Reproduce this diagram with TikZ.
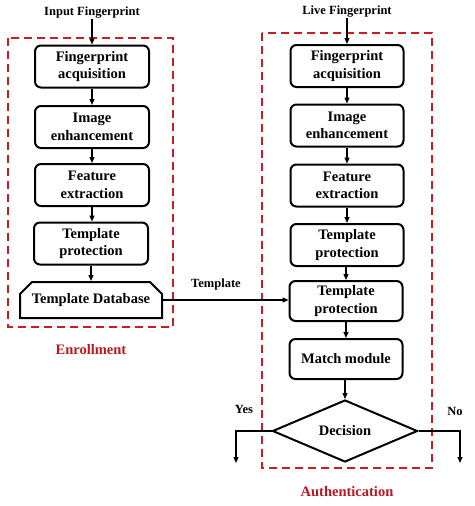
\documentclass[tikz,border=0pt]{standalone}
\usepackage{fontspec}
\setmainfont{Liberation Serif}
\usetikzlibrary{arrows.meta,shapes.geometric,shapes.misc}
\definecolor{dred}{RGB}{200,30,35}
\definecolor{tred}{RGB}{185,25,30}
\begin{document}
\begin{tikzpicture}[x=1pt,y=-1pt,
  stepbox/.style={draw=black,line width=2pt,rounded corners=6pt,align=center,
    font=\fontsize{14.5}{17.5}\selectfont\bfseries,inner sep=0pt},
  lbox/.style={stepbox,minimum width=114pt,minimum height=42pt},
  rbox/.style={stepbox,minimum width=113pt,minimum height=42pt},
  conn/.style={line width=1.3pt,-{Triangle[length=6pt,width=5pt]}},
  lab/.style={font=\fontsize{12.5}{14}\selectfont\bfseries,inner sep=0pt},
  redlab/.style={font=\fontsize{14.5}{17}\selectfont\bfseries,text=tred,inner sep=0pt},
  region/.style={draw=dred,line width=2.2pt,dash pattern=on 8pt off 5pt}]
\useasboundingbox (0,0) rectangle (474,506);
% regions
\draw[region] (8,38) rectangle (173,327);
\draw[region] (262,33) rectangle (432,468);
% left column
\node[lab] (inp) at (92,13) {Input Fingerprint};
\node[lbox] (l1) at (92,66.5) {Fingerprint\\acquisition};
\node[lbox] (l2) at (92,127) {Image\\enhancement};
\node[lbox] (l3) at (92,185) {Feature\\extraction};
\node[lbox] (l4) at (91,243.5) {Template\\protection};
\node[draw=black,line width=2pt,chamfered rectangle,chamfered rectangle corners={north west,north east},
  chamfered rectangle xsep=6pt,chamfered rectangle ysep=6pt,
  minimum width=142pt,minimum height=36pt,inner sep=0pt,
  font=\fontsize{14.5}{17.5}\selectfont\bfseries] (db) at (91,300) {Template Database};
\node[redlab] (enr) at (91,350) {Enrollment};
% right column
\node[lab] (live) at (347,12) {Live Fingerprint};
\node[rbox] (r1) at (347,66) {Fingerprint\\acquisition};
\node[rbox] (r2) at (347,125.5) {Image\\enhancement};
\node[rbox] (r3) at (347,185.5) {Feature\\extraction};
\node[rbox] (r4) at (347,245) {Template\\protection};
\node[rbox,minimum height=40pt] (r5) at (346,301) {Template\\protection};
\node[rbox,minimum height=40pt] (r6) at (346,359) {Match module};
\node[draw=black,line width=2pt,diamond,aspect=2.34,minimum width=145pt,minimum height=62pt,inner sep=0pt,
  font=\fontsize{14.5}{17.5}\selectfont\bfseries] (dec) at (345,431) {Decision};
\node[redlab] (auth) at (347,492) {Authentication};
\node[lab] (tpl) at (216,284) {Template};
\node[lab] (yes) at (244,409) {Yes};
\node[lab] (no) at (455,411) {No};
\coordinate (yc) at (236,431);
\coordinate (ye) at (236,463);
\coordinate (nc) at (460,431);
\coordinate (ne) at (460,463);
% connectors
\draw[conn] (inp.south -| l1.north) -- (l1.north);
\draw[conn] (l1) -- (l2);
\draw[conn] (l2) -- (l3);
\draw[conn] (l3.south) -- (l4.north -| l3.south);
\draw[conn] (l4) -- (db.north -| l4.south);
\draw[conn] (live.south -| r1.north) -- (r1.north);
\draw[conn] (r1) -- (r2);
\draw[conn] (r2) -- (r3);
\draw[conn] (r3) -- (r4);
\draw[conn] (r4.south -| r5.north) -- (r5.north);
\draw[conn] (r5) -- (r6);
\draw[conn] (r6.south -| dec.north) -- (dec.north);
\draw[conn] (db.east) -- (db.east -| r5.west);
\draw[conn] (dec.west) -- (yc) -- (ye);
\draw[conn] (dec.east) -- (nc) -- (ne);
\end{tikzpicture}
\end{document}
